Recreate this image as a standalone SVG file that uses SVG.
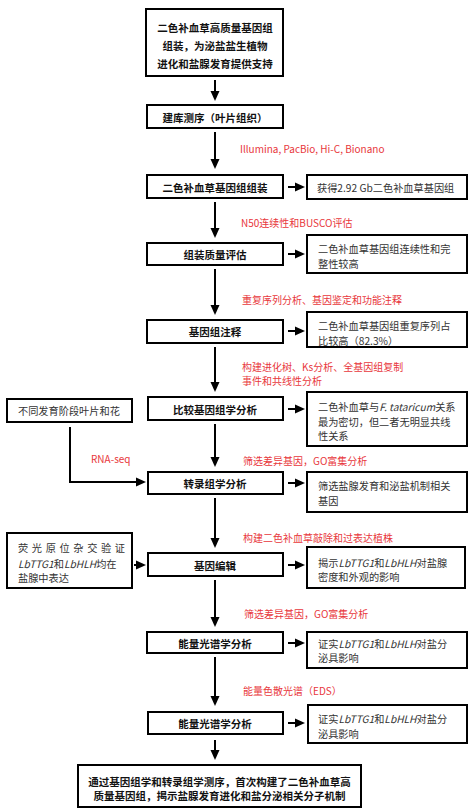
<svg xmlns="http://www.w3.org/2000/svg" width="474" height="812" viewBox="0 0 474 812">
<style>
.b{fill:#fff;stroke:#000;stroke-width:2}
.m{font-family:"Noto Sans CJK SC","Noto Sans",sans-serif;font-size:10.5px;font-weight:bold;fill:#111;text-anchor:middle;dominant-baseline:central}
.r{font-family:"Noto Sans CJK SC","Noto Sans",sans-serif;font-size:10.2px;fill:#333;dominant-baseline:central}
.red{font-family:"Noto Sans CJK SC","Noto Sans",sans-serif;font-size:10px;fill:#e8373c;dominant-baseline:central}
.c{fill:none;stroke:#000;stroke-width:2}
.i{font-style:italic}
</style>
<defs>
<marker id="ah" markerUnits="userSpaceOnUse" markerWidth="10" markerHeight="10" refX="6" refY="5" orient="auto">
<path d="M0,0.5 L10,5 L0,9.5 z" fill="#000"/>
</marker>
</defs>
<rect width="474" height="812" fill="#fff"/>
<g id="connectors">
<line class="c" x1="215" y1="80" x2="215" y2="97" marker-end="url(#ah)"/>
<line class="c" x1="215" y1="132" x2="215" y2="165" marker-end="url(#ah)"/>
<line class="c" x1="215" y1="202" x2="215" y2="234" marker-end="url(#ah)"/>
<line class="c" x1="215" y1="269" x2="215" y2="311" marker-end="url(#ah)"/>
<line class="c" x1="215" y1="347" x2="215" y2="388" marker-end="url(#ah)"/>
<line class="c" x1="215" y1="424" x2="215" y2="463" marker-end="url(#ah)"/>
<line class="c" x1="215" y1="498" x2="215" y2="544" marker-end="url(#ah)"/>
<line class="c" x1="215" y1="580" x2="215" y2="623" marker-end="url(#ah)"/>
<line class="c" x1="215" y1="657" x2="215" y2="702" marker-end="url(#ah)"/>
<line class="c" x1="215" y1="740" x2="215" y2="756" marker-end="url(#ah)"/>
<line class="c" x1="288" y1="187" x2="301" y2="187" marker-end="url(#ah)"/>
<line class="c" x1="288" y1="254" x2="301" y2="254" marker-end="url(#ah)"/>
<line class="c" x1="288" y1="331" x2="301" y2="331" marker-end="url(#ah)"/>
<line class="c" x1="288" y1="409" x2="301" y2="409" marker-end="url(#ah)"/>
<line class="c" x1="288" y1="483" x2="301" y2="483" marker-end="url(#ah)"/>
<line class="c" x1="288" y1="565" x2="301" y2="565" marker-end="url(#ah)"/>
<line class="c" x1="288" y1="643" x2="301" y2="643" marker-end="url(#ah)"/>
<line class="c" x1="288" y1="723" x2="301" y2="723" marker-end="url(#ah)"/>
<line class="c" x1="134" y1="565" x2="142" y2="565" marker-end="url(#ah)"/>
<path class="c" d="M70,427 V482 H142" marker-end="url(#ah)"/>
<text class="red" x="240" y="148">Illumina, PacBio, Hi-C, Bionano</text>
<text class="red" x="241" y="222">N50连续性和BUSCO评估</text>
<text class="red" x="242" y="299">重复序列分析、基因鉴定和功能注释</text>
<text class="red" x="242" y="366">构建进化树、Ks分析、全基因组复制</text>
<text class="red" x="242" y="380">事件和共线性分析</text>
<text class="red" x="91" y="458">RNA-seq</text>
<text class="red" x="243" y="460">筛选差异基因，GO富集分析</text>
<text class="red" x="243" y="537">构建二色补血草敲除和过表达植株</text>
<text class="red" x="244" y="613">筛选差异基因，GO富集分析</text>
<text class="red" x="243" y="690">能量色散光谱（EDS）</text>
</g>
<g id="n1"><rect class="b" x="146" y="9" width="137" height="67"/>
<text class="m" x="215" y="27">二色补血草高质量基因组</text>
<text class="m" x="215" y="45">组装，为泌盐盐生植物</text>
<text class="m" x="215" y="63">进化和盐腺发育提供支持</text></g>
<g id="n2"><rect class="b" x="147" y="105" width="136" height="23"/><text class="m" x="215" y="117">建库测序（叶片组织）</text></g>
<g id="n3"><rect class="b" x="147" y="175" width="136" height="23"/><text class="m" x="215" y="187">二色补血草基因组组装</text></g>
<g id="n4"><rect class="b" x="147" y="243" width="136" height="22"/><text class="m" x="215" y="254">组装质量评估</text></g>
<g id="n5"><rect class="b" x="147" y="320" width="136" height="23"/><text class="m" x="215" y="331">基因组注释</text></g>
<g id="n6"><rect class="b" x="148" y="397" width="135" height="23"/><text class="m" x="215" y="409">比较基因组学分析</text></g>
<g id="n7"><rect class="b" x="148" y="472" width="135" height="22"/><text class="m" x="215" y="483">转录组学分析</text></g>
<g id="n8"><rect class="b" x="148" y="553" width="135" height="23"/><text class="m" x="215" y="565">基因编辑</text></g>
<g id="n9"><rect class="b" x="147" y="632" width="136" height="21"/><text class="m" x="215" y="643">能量光谱学分析</text></g>
<g id="n10"><rect class="b" x="148" y="712" width="135" height="22"/><text class="m" x="215" y="723">能量光谱学分析</text></g>
<g id="n11"><rect class="b" x="78" y="765" width="283" height="42"/>
<text class="m" x="219.5" y="781">通过基因组学和转录组学测序，首次构建了二色补血草高</text>
<text class="m" x="219.5" y="795">质量基因组，揭示盐腺发育进化和盐分泌相关分子机制</text></g>
<g id="r3"><rect class="b" x="307" y="175" width="160" height="24"/><text class="r" x="317" y="187">获得2.92 Gb二色补血草基因组</text></g>
<g id="r4"><rect class="b" x="307" y="235" width="160" height="38"/>
<text class="r" x="318" y="248">二色补血草基因组连续性和完</text>
<text class="r" x="318" y="263">整性较高</text></g>
<g id="r5"><rect class="b" x="307" y="312" width="160" height="35"/>
<text class="r" x="318" y="325">二色补血草基因组重复序列占</text>
<text class="r" x="318" y="340">比较高（82.3%）</text></g>
<g id="r6"><rect class="b" x="307" y="392" width="160" height="54"/>
<text class="r" x="318" y="406">二色补血草与<tspan class="i">F. tataricum</tspan>关系</text>
<text class="r" x="318" y="421">最为密切，但二者无明显共线</text>
<text class="r" x="318" y="435">性关系</text></g>
<g id="r7"><rect class="b" x="307" y="472" width="160" height="40"/>
<text class="r" x="318" y="485">筛选盐腺发育和泌盐机制相关</text>
<text class="r" x="318" y="500">基因</text></g>
<g id="r8"><rect class="b" x="307" y="547" width="158" height="41"/>
<text class="r" x="318" y="562">揭示<tspan class="i">LbTTG1</tspan>和<tspan class="i">LbHLH</tspan>对盐腺</text>
<text class="r" x="318" y="576">密度和外观的影响</text></g>
<g id="r9"><rect class="b" x="307" y="632" width="160" height="36"/>
<text class="r" x="318" y="643">证实<tspan class="i">LbTTG1</tspan>和<tspan class="i">LbHLH</tspan>对盐分</text>
<text class="r" x="318" y="657">泌具影响</text></g>
<g id="r10"><rect class="b" x="308" y="705" width="159" height="38"/>
<text class="r" x="318" y="718">证实<tspan class="i">LbTTG1</tspan>和<tspan class="i">LbHLH</tspan>对盐分</text>
<text class="r" x="318" y="733">泌具影响</text></g>
<g id="l1"><rect class="b" x="7" y="399" width="125" height="23"/><text class="r" x="18" y="410">不同发育阶段叶片和花</text></g>
<g id="l2"><rect class="b" x="7" y="533" width="125" height="55"/>
<text class="r" x="18" y="547" textLength="107" lengthAdjust="spacing">荧光原位杂交验证</text>
<text class="r" x="18" y="563"><tspan class="i">LbTTG1</tspan>和<tspan class="i">LbHLH</tspan>均在</text>
<text class="r" x="18" y="577">盐腺中表达</text></g>
</svg>
